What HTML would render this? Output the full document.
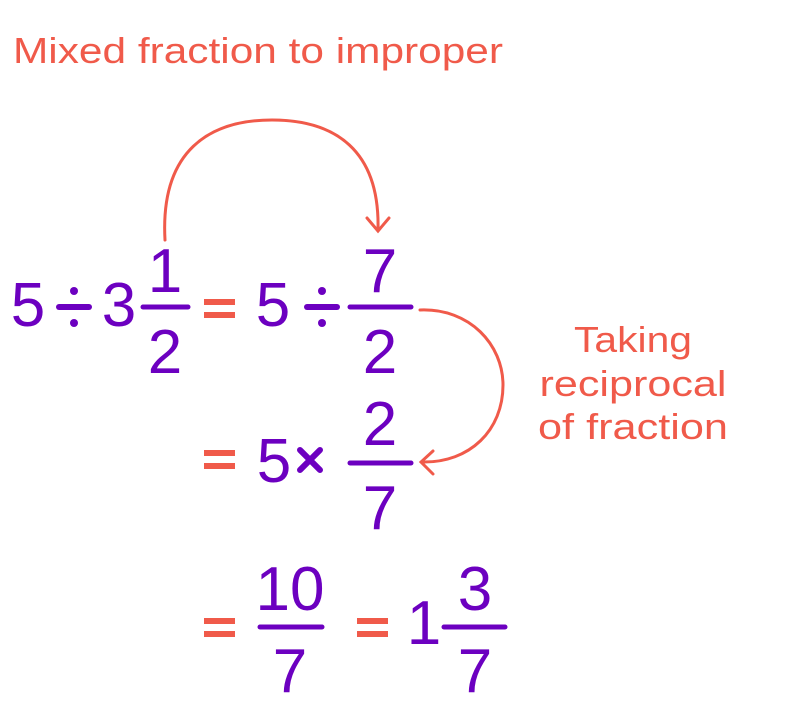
<!DOCTYPE html>
<html><head><meta charset="utf-8"><style>
html,body{margin:0;padding:0;background:#fff;}
svg{display:block;}
text{font-family:"Liberation Sans",sans-serif;}
.p{fill:#6c00c0;font-size:62px;text-anchor:middle;}
.r{fill:#f05a4a;font-size:36px;}
.b{stroke:#6c00c0;stroke-width:5;stroke-linecap:round;}
.e{fill:#f05a4a;}
.a{fill:none;stroke:#f05a4a;stroke-width:3;stroke-linecap:round;}
.o{fill:#6c00c0;}
</style></head><body>
<svg width="801" height="713" viewBox="0 0 801 713">
<text class="r" x="13" y="63" textLength="490" lengthAdjust="spacingAndGlyphs">Mixed fraction to improper</text>
<text class="r" x="633" y="352" text-anchor="middle" textLength="118" lengthAdjust="spacingAndGlyphs">Taking</text>
<text class="r" x="633" y="396" text-anchor="middle" textLength="187" lengthAdjust="spacingAndGlyphs">reciprocal</text>
<text class="r" x="633" y="439" text-anchor="middle" textLength="190" lengthAdjust="spacingAndGlyphs">of fraction</text>

<!-- arcs -->
<path class="a" d="M165,240 C160,150 210,120 272,120 C335,120 380,150 378,230"/>
<path class="a" d="M367,218 L378,231 L389,218"/>
<path class="a" d="M420,310 C470,308 503,345 503,385 C503,430 470,463 422,462"/>
<path class="a" d="M433,451 L421,462 L433,474"/>

<!-- row 1 -->
<text class="p" x="28" y="326">5</text>
<rect class="o" x="56" y="304" width="36" height="6" rx="3"/><circle class="o" cx="74" cy="291" r="4"/><circle class="o" cx="74" cy="323" r="4"/>
<text class="p" x="119" y="326">3</text>
<text class="p" x="165" y="292">1</text>
<line class="b" x1="143" y1="307" x2="188" y2="307"/>
<text class="p" x="165" y="373">2</text>
<rect class="e" x="204" y="299" width="31" height="6"/><rect class="e" x="204" y="312" width="31" height="6"/>
<text class="p" x="273" y="326">5</text>
<rect class="o" x="304" y="304" width="36" height="6" rx="3"/><circle class="o" cx="322" cy="291" r="4"/><circle class="o" cx="322" cy="323" r="4"/>
<line class="b" x1="350" y1="307" x2="411" y2="307"/>
<text class="p" x="380" y="292">7</text>
<text class="p" x="380" y="373">2</text>

<!-- row 2 -->
<rect class="e" x="204" y="450" width="31" height="6"/><rect class="e" x="204" y="463" width="31" height="6"/>
<text class="p" x="274" y="482">5</text>
<path d="M300,450 L320,470 M320,450 L300,470" stroke="#6c00c0" stroke-width="6" stroke-linecap="round"/>
<text class="p" x="380" y="445">2</text>
<line class="b" x1="350" y1="463" x2="411" y2="463"/>
<text class="p" x="380" y="529">7</text>

<!-- row 3 -->
<rect class="e" x="204" y="618" width="31" height="6"/><rect class="e" x="204" y="631" width="31" height="6"/>
<text class="p" x="290" y="610">10</text>
<line class="b" x1="260" y1="627" x2="322" y2="627"/>
<text class="p" x="290" y="692">7</text>
<rect class="e" x="357" y="618" width="31" height="6"/><rect class="e" x="357" y="631" width="31" height="6"/>
<text class="p" x="424" y="644">1</text>
<line class="b" x1="444" y1="627" x2="505" y2="627"/>
<text class="p" x="475" y="610">3</text>
<text class="p" x="475" y="692">7</text>
</svg>
</body></html>
